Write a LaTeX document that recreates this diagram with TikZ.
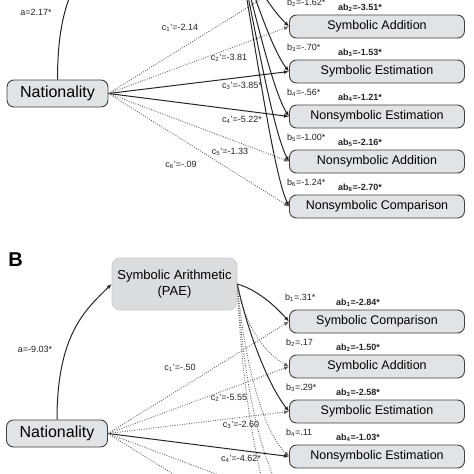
\documentclass[tikz,border=0pt]{standalone}
\usepackage{fontspec}
\setmainfont{Liberation Sans}
\usepackage{xcolor}
\definecolor{grisCaja}{HTML}{E1E4E6}
\definecolor{grisMed}{HTML}{DADDE0}
\definecolor{grisTxt}{HTML}{222222}
\usetikzlibrary{arrows.meta}
\begin{document}
\begin{tikzpicture}[x=1pt,y=-1pt,
 outbox/.style={draw=black!75,line width=0.9pt,rounded corners=7pt,fill=grisCaja,
 minimum width=175pt,minimum height=23pt,inner sep=0pt,font=\fontsize{12.5}{14}\selectfont},
 natbox/.style={outbox,minimum width=101pt,minimum height=27pt,font=\fontsize{16}{18}\selectfont},
 medbox/.style={draw=black!22,line width=0.6pt,rounded corners=8pt,fill=grisMed,
 minimum width=125pt,minimum height=52pt,align=center,font=\fontsize{13}{15.5}\selectfont},
 lab/.style={font=\fontsize{9}{10}\selectfont,text=grisTxt,inner sep=0pt},
 blab/.style={lab,anchor=west},
 ablab/.style={lab,font=\fontsize{9}{10}\selectfont\bfseries},
 sig/.style={-{Latex[length=5pt,width=4pt]},line width=1pt,draw=black!85},
 ns/.style={-{Latex[length=5pt,width=4pt]},line width=0.9pt,draw=black!62,
 dash pattern=on 0.9pt off 1.5pt}]
 \useasboundingbox (0,0) rectangle (474,474);
 \clip (0,0) rectangle (474,474);
 % panel A (upper part is cut off)
 \coordinate (medA) at (112,-56);
 \coordinate (medAe) at (237,-56);
 \coordinate (scA) at (289.5,-18.5);
 \node[natbox] (natA) at (57.5,93.5) {Nationality};
 \node[outbox] (saA) at (377,26.5) {Symbolic Addition};
 \node[outbox] (seA) at (377,71.5) {Symbolic Estimation};
 \node[outbox] (neA) at (377,116.5) {Nonsymbolic Estimation};
 \node[outbox] (naA) at (377,161.5) {Nonsymbolic Addition};
 \node[outbox] (ncA) at (377,206.5) {Nonsymbolic Comparison};
 \node[lab] (aA) at (36,12) {a=2.17*};
 \node[lab] (c1A) at (180,28) {c\textsubscript{1}'=-2.14};
 \node[lab] (c2A) at (229,58) {c\textsubscript{2}'=-3.81};
 \node[lab] (c3A) at (242,86) {c\textsubscript{3}'=-3.85*};
 \node[lab] (c4A) at (242,120) {c\textsubscript{4}'=-5.22*};
 \node[lab] (c5A) at (230,152) {c\textsubscript{5}'=-1.33};
 \node[lab] (c6A) at (181,165) {c\textsubscript{6}'=-.09};
 \node[blab] (b2A) at (287,3) {b\textsubscript{2}=-1.62*};
 \node[blab] (b3A) at (287,48) {b\textsubscript{3}=-.70*};
 \node[blab] (b4A) at (287,93) {b\textsubscript{4}=-.56*};
 \node[blab] (b5A) at (287,138) {b\textsubscript{5}=-1.00*};
 \node[blab] (b6A) at (287,183) {b\textsubscript{6}=-1.24*};
 \node[ablab] (ab2A) at (360,8) {ab\textsubscript{2}=-3.51*};
 \node[ablab] (ab3A) at (360,53) {ab\textsubscript{3}=-1.53*};
 \node[ablab] (ab4A) at (360,98) {ab\textsubscript{4}=-1.21*};
 \node[ablab] (ab5A) at (360,143) {ab\textsubscript{5}=-2.16*};
 \node[ablab] (ab6A) at (360,188) {ab\textsubscript{6}=-2.70*};
 \draw[sig] (natA.north) .. controls (57.5,-5) and (81,-30) .. (medA);
 \draw[ns] (natA.east)--(scA);
 \draw[ns] (natA.east)--(saA.west);
 \draw[sig] (natA.east)--(seA.west);
 \draw[sig] (natA.east)--(neA.west);
 \draw[ns] (natA.east)--(naA.west);
 \draw[ns] (natA.east)--(ncA.west);
 \draw[sig] (medAe) .. controls (258,-50) and (275,-34) .. (scA);
 \draw[sig] (medAe) .. controls (252,-20) and (272,10) .. (saA.west);
 \draw[sig] (medAe) .. controls (252,-10) and (272,50) .. (seA.west);
 \draw[sig] (medAe) .. controls (252,0) and (272,90) .. (neA.west);
 \draw[sig] (medAe) .. controls (252,10) and (272,130) .. (naA.west);
 \draw[sig] (medAe) .. controls (252,20) and (272,170) .. (ncA.west);
 % panel B (lower part is cut off)
 \node[font=\fontsize{20}{24}\selectfont\bfseries,inner sep=0pt] (tagB) at (15.5,260) {B};
 \node[medbox] (medB) at (174.5,284) {Symbolic Arithmetic\\(PAE)};
 \node[natbox] (natB) at (57,433.5) {Nationality};
 \node[outbox] (scB) at (377,321.5) {Symbolic Comparison};
 \node[outbox] (saB) at (377,366.5) {Symbolic Addition};
 \node[outbox] (seB) at (377,411.5) {Symbolic Estimation};
 \node[outbox] (neB) at (377,456.5) {Nonsymbolic Estimation};
 \coordinate (naB) at (289.5,501.5);
 \coordinate (ncB) at (289.5,546.5);
 \node[lab] (aB) at (35,349) {a=-9.03*};
 \node[lab] (c1B) at (180,368) {c\textsubscript{1}'=-.50};
 \node[lab] (c2B) at (229,398) {c\textsubscript{2}'=-5.55};
 \node[lab] (c3B) at (241,425) {c\textsubscript{3}'=-2.60};
 \node[lab] (c4B) at (241,459) {c\textsubscript{4}'=-4.62*};
 \node[blab] (b1B) at (285,298) {b\textsubscript{1}=.31*};
 \node[blab] (b2B) at (286,343) {b\textsubscript{2}=.17};
 \node[blab] (b3B) at (286,388) {b\textsubscript{3}=.29*};
 \node[blab] (b4B) at (286,433) {b\textsubscript{4}=.11};
 \node[ablab] (ab1B) at (358,303) {ab\textsubscript{1}=-2.84*};
 \node[ablab] (ab2B) at (358,348) {ab\textsubscript{2}=-1.50*};
 \node[ablab] (ab3B) at (358,393) {ab\textsubscript{3}=-2.58*};
 \node[ablab] (ab4B) at (358,438) {ab\textsubscript{4}=-1.03*};
 \draw[sig] (natB.north) .. controls (57,335) and (85,310) .. (medB.west);
 \draw[ns] (natB.east)--(scB.west);
 \draw[ns] (natB.east)--(saB.west);
 \draw[ns] (natB.east)--(seB.west);
 \draw[sig] (natB.east)--(neB.west);
 \draw[ns] (natB.east)--(naB);
 \draw[ns] (natB.east)--(ncB);
 \draw[sig] (medB.east) .. controls (258,290) and (275,306) .. (scB.west);
 \draw[ns] (medB.east) .. controls (243,320) and (262,352) .. (saB.west);
 \draw[sig] (medB.east) .. controls (247,330) and (268,385) .. (seB.west);
 \draw[ns] (medB.east) .. controls (244,360) and (262,430) .. (neB.west);
 \draw[ns] (medB.east) .. controls (243,380) and (262,470) .. (naB);
 \draw[ns] (medB.east) .. controls (242,400) and (262,510) .. (ncB);
\end{tikzpicture}
\end{document}
